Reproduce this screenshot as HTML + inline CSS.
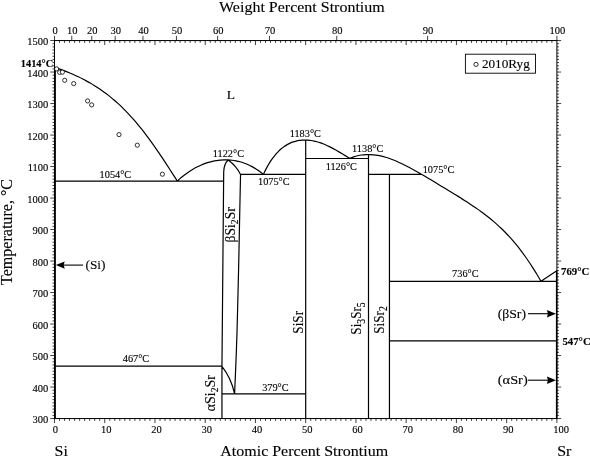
<!DOCTYPE html><html><head><meta charset="utf-8"><title>Si-Sr phase diagram</title>
<style>html,body{margin:0;padding:0;background:#fff}svg{display:block}text{font-family:"Liberation Serif","DejaVu Serif",serif;fill:#000;stroke:#000;stroke-width:0.12px}</style></head><body>
<svg width="590" height="458" viewBox="0 0 590 458">
<rect width="590" height="458" fill="#fff"/>
<rect x="54.5" y="40.55" width="502.40" height="378.00" fill="none" stroke="#000" stroke-width="1"/>
<path d="M54.5 418.55h-4.2M556.9 418.55h4.2M54.5 415.40h-2.0M556.9 415.40h2.0M54.5 412.25h-2.0M556.9 412.25h2.0M54.5 409.10h-2.0M556.9 409.10h2.0M54.5 405.95h-2.0M556.9 405.95h2.0M54.5 402.80h-2.0M556.9 402.80h2.0M54.5 399.65h-2.0M556.9 399.65h2.0M54.5 396.50h-2.0M556.9 396.50h2.0M54.5 393.35h-2.0M556.9 393.35h2.0M54.5 390.20h-2.0M556.9 390.20h2.0M54.5 387.05h-4.2M556.9 387.05h4.2M54.5 383.90h-2.0M556.9 383.90h2.0M54.5 380.75h-2.0M556.9 380.75h2.0M54.5 377.60h-2.0M556.9 377.60h2.0M54.5 374.45h-2.0M556.9 374.45h2.0M54.5 371.30h-2.0M556.9 371.30h2.0M54.5 368.15h-2.0M556.9 368.15h2.0M54.5 365.00h-2.0M556.9 365.00h2.0M54.5 361.85h-2.0M556.9 361.85h2.0M54.5 358.70h-2.0M556.9 358.70h2.0M54.5 355.55h-4.2M556.9 355.55h4.2M54.5 352.40h-2.0M556.9 352.40h2.0M54.5 349.25h-2.0M556.9 349.25h2.0M54.5 346.10h-2.0M556.9 346.10h2.0M54.5 342.95h-2.0M556.9 342.95h2.0M54.5 339.80h-2.0M556.9 339.80h2.0M54.5 336.65h-2.0M556.9 336.65h2.0M54.5 333.50h-2.0M556.9 333.50h2.0M54.5 330.35h-2.0M556.9 330.35h2.0M54.5 327.20h-2.0M556.9 327.20h2.0M54.5 324.05h-4.2M556.9 324.05h4.2M54.5 320.90h-2.0M556.9 320.90h2.0M54.5 317.75h-2.0M556.9 317.75h2.0M54.5 314.60h-2.0M556.9 314.60h2.0M54.5 311.45h-2.0M556.9 311.45h2.0M54.5 308.30h-2.0M556.9 308.30h2.0M54.5 305.15h-2.0M556.9 305.15h2.0M54.5 302.00h-2.0M556.9 302.00h2.0M54.5 298.85h-2.0M556.9 298.85h2.0M54.5 295.70h-2.0M556.9 295.70h2.0M54.5 292.55h-4.2M556.9 292.55h4.2M54.5 289.40h-2.0M556.9 289.40h2.0M54.5 286.25h-2.0M556.9 286.25h2.0M54.5 283.10h-2.0M556.9 283.10h2.0M54.5 279.95h-2.0M556.9 279.95h2.0M54.5 276.80h-2.0M556.9 276.80h2.0M54.5 273.65h-2.0M556.9 273.65h2.0M54.5 270.50h-2.0M556.9 270.50h2.0M54.5 267.35h-2.0M556.9 267.35h2.0M54.5 264.20h-2.0M556.9 264.20h2.0M54.5 261.05h-4.2M556.9 261.05h4.2M54.5 257.90h-2.0M556.9 257.90h2.0M54.5 254.75h-2.0M556.9 254.75h2.0M54.5 251.60h-2.0M556.9 251.60h2.0M54.5 248.45h-2.0M556.9 248.45h2.0M54.5 245.30h-2.0M556.9 245.30h2.0M54.5 242.15h-2.0M556.9 242.15h2.0M54.5 239.00h-2.0M556.9 239.00h2.0M54.5 235.85h-2.0M556.9 235.85h2.0M54.5 232.70h-2.0M556.9 232.70h2.0M54.5 229.55h-4.2M556.9 229.55h4.2M54.5 226.40h-2.0M556.9 226.40h2.0M54.5 223.25h-2.0M556.9 223.25h2.0M54.5 220.10h-2.0M556.9 220.10h2.0M54.5 216.95h-2.0M556.9 216.95h2.0M54.5 213.80h-2.0M556.9 213.80h2.0M54.5 210.65h-2.0M556.9 210.65h2.0M54.5 207.50h-2.0M556.9 207.50h2.0M54.5 204.35h-2.0M556.9 204.35h2.0M54.5 201.20h-2.0M556.9 201.20h2.0M54.5 198.05h-4.2M556.9 198.05h4.2M54.5 194.90h-2.0M556.9 194.90h2.0M54.5 191.75h-2.0M556.9 191.75h2.0M54.5 188.60h-2.0M556.9 188.60h2.0M54.5 185.45h-2.0M556.9 185.45h2.0M54.5 182.30h-2.0M556.9 182.30h2.0M54.5 179.15h-2.0M556.9 179.15h2.0M54.5 176.00h-2.0M556.9 176.00h2.0M54.5 172.85h-2.0M556.9 172.85h2.0M54.5 169.70h-2.0M556.9 169.70h2.0M54.5 166.55h-4.2M556.9 166.55h4.2M54.5 163.40h-2.0M556.9 163.40h2.0M54.5 160.25h-2.0M556.9 160.25h2.0M54.5 157.10h-2.0M556.9 157.10h2.0M54.5 153.95h-2.0M556.9 153.95h2.0M54.5 150.80h-2.0M556.9 150.80h2.0M54.5 147.65h-2.0M556.9 147.65h2.0M54.5 144.50h-2.0M556.9 144.50h2.0M54.5 141.35h-2.0M556.9 141.35h2.0M54.5 138.20h-2.0M556.9 138.20h2.0M54.5 135.05h-4.2M556.9 135.05h4.2M54.5 131.90h-2.0M556.9 131.90h2.0M54.5 128.75h-2.0M556.9 128.75h2.0M54.5 125.60h-2.0M556.9 125.60h2.0M54.5 122.45h-2.0M556.9 122.45h2.0M54.5 119.30h-2.0M556.9 119.30h2.0M54.5 116.15h-2.0M556.9 116.15h2.0M54.5 113.00h-2.0M556.9 113.00h2.0M54.5 109.85h-2.0M556.9 109.85h2.0M54.5 106.70h-2.0M556.9 106.70h2.0M54.5 103.55h-4.2M556.9 103.55h4.2M54.5 100.40h-2.0M556.9 100.40h2.0M54.5 97.25h-2.0M556.9 97.25h2.0M54.5 94.10h-2.0M556.9 94.10h2.0M54.5 90.95h-2.0M556.9 90.95h2.0M54.5 87.80h-2.0M556.9 87.80h2.0M54.5 84.65h-2.0M556.9 84.65h2.0M54.5 81.50h-2.0M556.9 81.50h2.0M54.5 78.35h-2.0M556.9 78.35h2.0M54.5 75.20h-2.0M556.9 75.20h2.0M54.5 72.05h-4.2M556.9 72.05h4.2M54.5 68.90h-2.0M556.9 68.90h2.0M54.5 65.75h-2.0M556.9 65.75h2.0M54.5 62.60h-2.0M556.9 62.60h2.0M54.5 59.45h-2.0M556.9 59.45h2.0M54.5 56.30h-2.0M556.9 56.30h2.0M54.5 53.15h-2.0M556.9 53.15h2.0M54.5 50.00h-2.0M556.9 50.00h2.0M54.5 46.85h-2.0M556.9 46.85h2.0M54.5 43.70h-2.0M556.9 43.70h2.0M54.5 40.55h-4.2M556.9 40.55h4.2M54.50 418.55v4.5M59.52 418.55v2.3M59.52 40.55v2.3M64.55 418.55v2.3M64.55 40.55v2.3M69.57 418.55v2.3M69.57 40.55v2.3M74.60 418.55v2.3M74.60 40.55v2.3M79.62 418.55v2.3M79.62 40.55v2.3M84.64 418.55v2.3M84.64 40.55v2.3M89.67 418.55v2.3M89.67 40.55v2.3M94.69 418.55v2.3M94.69 40.55v2.3M99.72 418.55v2.3M99.72 40.55v2.3M104.74 418.55v4.5M104.74 40.55v4.5M109.76 418.55v2.3M109.76 40.55v2.3M114.79 418.55v2.3M114.79 40.55v2.3M119.81 418.55v2.3M119.81 40.55v2.3M124.84 418.55v2.3M124.84 40.55v2.3M129.86 418.55v2.3M129.86 40.55v2.3M134.88 418.55v2.3M134.88 40.55v2.3M139.91 418.55v2.3M139.91 40.55v2.3M144.93 418.55v2.3M144.93 40.55v2.3M149.96 418.55v2.3M149.96 40.55v2.3M154.98 418.55v4.5M154.98 40.55v4.5M160.00 418.55v2.3M160.00 40.55v2.3M165.03 418.55v2.3M165.03 40.55v2.3M170.05 418.55v2.3M170.05 40.55v2.3M175.08 418.55v2.3M175.08 40.55v2.3M180.10 418.55v2.3M180.10 40.55v2.3M185.12 418.55v2.3M185.12 40.55v2.3M190.15 418.55v2.3M190.15 40.55v2.3M195.17 418.55v2.3M195.17 40.55v2.3M200.20 418.55v2.3M200.20 40.55v2.3M205.22 418.55v4.5M205.22 40.55v4.5M210.24 418.55v2.3M210.24 40.55v2.3M215.27 418.55v2.3M215.27 40.55v2.3M220.29 418.55v2.3M220.29 40.55v2.3M225.32 418.55v2.3M225.32 40.55v2.3M230.34 418.55v2.3M230.34 40.55v2.3M235.36 418.55v2.3M235.36 40.55v2.3M240.39 418.55v2.3M240.39 40.55v2.3M245.41 418.55v2.3M245.41 40.55v2.3M250.44 418.55v2.3M250.44 40.55v2.3M255.46 418.55v4.5M255.46 40.55v4.5M260.48 418.55v2.3M260.48 40.55v2.3M265.51 418.55v2.3M265.51 40.55v2.3M270.53 418.55v2.3M270.53 40.55v2.3M275.56 418.55v2.3M275.56 40.55v2.3M280.58 418.55v2.3M280.58 40.55v2.3M285.60 418.55v2.3M285.60 40.55v2.3M290.63 418.55v2.3M290.63 40.55v2.3M295.65 418.55v2.3M295.65 40.55v2.3M300.68 418.55v2.3M300.68 40.55v2.3M305.70 418.55v4.5M305.70 40.55v4.5M310.72 418.55v2.3M310.72 40.55v2.3M315.75 418.55v2.3M315.75 40.55v2.3M320.77 418.55v2.3M320.77 40.55v2.3M325.80 418.55v2.3M325.80 40.55v2.3M330.82 418.55v2.3M330.82 40.55v2.3M335.84 418.55v2.3M335.84 40.55v2.3M340.87 418.55v2.3M340.87 40.55v2.3M345.89 418.55v2.3M345.89 40.55v2.3M350.92 418.55v2.3M350.92 40.55v2.3M355.94 418.55v4.5M355.94 40.55v4.5M360.96 418.55v2.3M360.96 40.55v2.3M365.99 418.55v2.3M365.99 40.55v2.3M371.01 418.55v2.3M371.01 40.55v2.3M376.04 418.55v2.3M376.04 40.55v2.3M381.06 418.55v2.3M381.06 40.55v2.3M386.08 418.55v2.3M386.08 40.55v2.3M391.11 418.55v2.3M391.11 40.55v2.3M396.13 418.55v2.3M396.13 40.55v2.3M401.16 418.55v2.3M401.16 40.55v2.3M406.18 418.55v4.5M406.18 40.55v4.5M411.20 418.55v2.3M411.20 40.55v2.3M416.23 418.55v2.3M416.23 40.55v2.3M421.25 418.55v2.3M421.25 40.55v2.3M426.28 418.55v2.3M426.28 40.55v2.3M431.30 418.55v2.3M431.30 40.55v2.3M436.32 418.55v2.3M436.32 40.55v2.3M441.35 418.55v2.3M441.35 40.55v2.3M446.37 418.55v2.3M446.37 40.55v2.3M451.40 418.55v2.3M451.40 40.55v2.3M456.42 418.55v4.5M456.42 40.55v4.5M461.44 418.55v2.3M461.44 40.55v2.3M466.47 418.55v2.3M466.47 40.55v2.3M471.49 418.55v2.3M471.49 40.55v2.3M476.52 418.55v2.3M476.52 40.55v2.3M481.54 418.55v2.3M481.54 40.55v2.3M486.56 418.55v2.3M486.56 40.55v2.3M491.59 418.55v2.3M491.59 40.55v2.3M496.61 418.55v2.3M496.61 40.55v2.3M501.64 418.55v2.3M501.64 40.55v2.3M506.66 418.55v4.5M506.66 40.55v4.5M511.68 418.55v2.3M511.68 40.55v2.3M516.71 418.55v2.3M516.71 40.55v2.3M521.73 418.55v2.3M521.73 40.55v2.3M526.76 418.55v2.3M526.76 40.55v2.3M531.78 418.55v2.3M531.78 40.55v2.3M536.80 418.55v2.3M536.80 40.55v2.3M541.83 418.55v2.3M541.83 40.55v2.3M546.85 418.55v2.3M546.85 40.55v2.3M551.88 418.55v2.3M551.88 40.55v2.3M556.90 418.55v4.5M54.50 40.55v-4.7M71.78 40.55v-4.7M91.77 40.55v-4.7M115.18 40.55v-4.7M142.96 40.55v-4.7M176.45 40.55v-4.7M217.63 40.55v-4.7M269.47 40.55v-4.7M336.76 40.55v-4.7M427.58 40.55v-4.7M556.90 40.55v-4.7" stroke="#000" stroke-width="0.75" fill="none"/>
<path d="M54.95 67.64V419.05" stroke="#000" stroke-width="1.9" fill="none"/>
<path d="M556.65 270.81V419.05" stroke="#000" stroke-width="1.5" fill="none"/>
<text x="48.3" y="423.05" font-size="10.5" text-anchor="end">300</text>
<text x="48.3" y="391.55" font-size="10.5" text-anchor="end">400</text>
<text x="48.3" y="360.05" font-size="10.5" text-anchor="end">500</text>
<text x="48.3" y="328.55" font-size="10.5" text-anchor="end">600</text>
<text x="48.3" y="297.05" font-size="10.5" text-anchor="end">700</text>
<text x="48.3" y="265.55" font-size="10.5" text-anchor="end">800</text>
<text x="48.3" y="234.05" font-size="10.5" text-anchor="end">900</text>
<text x="48.3" y="202.55" font-size="10.5" text-anchor="end">1000</text>
<text x="48.3" y="171.05" font-size="10.5" text-anchor="end">1100</text>
<text x="48.3" y="139.55" font-size="10.5" text-anchor="end">1200</text>
<text x="48.3" y="108.05" font-size="10.5" text-anchor="end">1300</text>
<text x="48.3" y="76.55" font-size="10.5" text-anchor="end">1400</text>
<text x="48.3" y="45.05" font-size="10.5" text-anchor="end">1500</text>
<text x="55.30" y="432.8" font-size="10.5" text-anchor="middle">0</text>
<text x="101.04" y="432.8" font-size="10.5">10</text>
<text x="151.28" y="432.8" font-size="10.5">20</text>
<text x="201.52" y="432.8" font-size="10.5">30</text>
<text x="251.76" y="432.8" font-size="10.5">40</text>
<text x="302.00" y="432.8" font-size="10.5">50</text>
<text x="352.24" y="432.8" font-size="10.5">60</text>
<text x="402.48" y="432.8" font-size="10.5">70</text>
<text x="452.72" y="432.8" font-size="10.5">80</text>
<text x="502.96" y="432.8" font-size="10.5">90</text>
<text x="553.20" y="432.8" font-size="10.5">100</text>
<text x="55.00" y="33.6" font-size="10.5" text-anchor="middle">0</text>
<text x="72.28" y="33.6" font-size="10.5" text-anchor="middle">10</text>
<text x="92.27" y="33.6" font-size="10.5" text-anchor="middle">20</text>
<text x="115.68" y="33.6" font-size="10.5" text-anchor="middle">30</text>
<text x="143.46" y="33.6" font-size="10.5" text-anchor="middle">40</text>
<text x="176.95" y="33.6" font-size="10.5" text-anchor="middle">50</text>
<text x="218.13" y="33.6" font-size="10.5" text-anchor="middle">60</text>
<text x="269.97" y="33.6" font-size="10.5" text-anchor="middle">70</text>
<text x="337.26" y="33.6" font-size="10.5" text-anchor="middle">80</text>
<text x="428.08" y="33.6" font-size="10.5" text-anchor="middle">90</text>
<text x="557.40" y="33.6" font-size="10.5" text-anchor="middle">100</text>
<text transform="translate(301.9 11.7) scale(1.0667 1)" font-size="15" text-anchor="middle">Weight Percent Strontium</text>
<text transform="translate(304.2 456.3) scale(1.0667 1)" font-size="15" text-anchor="middle">Atomic Percent Strontium</text>
<text transform="translate(54.5 456.3) scale(1.0667 1)" font-size="15">Si</text>
<text transform="translate(557.2 456.2) scale(1.0667 1)" font-size="15">Sr</text>
<text transform="translate(12.0 232.0) scale(1.1 1) rotate(-90) scale(1.072 1)" font-size="15" text-anchor="middle">Temperature, °C</text>
<path d="M54.5 181.04H223.7M240.5 174.4H305.6M305.70 158.51L368.50 158.51M368.50 174.43H421.1M389.45 281.36L556.90 281.36M389.45 340.89L556.90 340.89M54.50 366.09L221.95 366.09M221.95 393.81L305.70 393.81M221.95 366.09L221.95 418.70M305.70 140.56L305.70 418.70M368.50 154.73L368.50 418.70M389.45 174.58L389.45 418.70M541 281.3L556.8 270.81M54.60 67.20C55.26 67.43 57.24 68.12 58.56 68.60C59.88 69.08 61.20 69.57 62.52 70.07C63.84 70.58 65.15 71.09 66.47 71.62C67.79 72.16 69.11 72.70 70.43 73.26C71.75 73.83 73.07 74.40 74.39 75.00C75.71 75.59 77.03 76.20 78.35 76.83C79.67 77.47 80.99 78.11 82.31 78.79C83.63 79.46 84.95 80.15 86.26 80.86C87.58 81.58 88.90 82.31 90.22 83.08C91.54 83.84 92.86 84.63 94.18 85.44C95.50 86.26 96.82 87.10 98.14 87.97C99.46 88.84 100.78 89.74 102.10 90.67C103.42 91.60 104.74 92.56 106.05 93.55C107.37 94.55 108.69 95.57 110.01 96.64C111.33 97.70 112.65 98.79 113.97 99.92C115.29 101.06 116.61 102.22 117.93 103.43C119.25 104.63 120.57 105.87 121.89 107.15C123.21 108.43 124.53 109.75 125.85 111.10C127.16 112.46 128.48 113.86 129.80 115.29C131.12 116.72 132.44 118.19 133.76 119.70C135.08 121.21 136.40 122.76 137.72 124.35C139.04 125.94 140.36 127.56 141.68 129.23C143.00 130.89 144.32 132.59 145.64 134.32C146.95 136.06 148.27 137.83 149.59 139.63C150.91 141.43 152.23 143.27 153.55 145.13C154.87 147.00 156.19 148.90 157.51 150.82C158.83 152.74 160.15 154.69 161.47 156.66C162.79 158.63 164.11 160.63 165.43 162.64C166.75 164.65 168.06 166.68 169.38 168.72C170.70 170.76 172.02 172.82 173.34 174.88C174.66 176.93 176.64 180.02 177.30 181.05M177.30 181.05C177.95 180.47 179.91 178.67 181.21 177.57C182.52 176.46 183.82 175.42 185.13 174.44C186.43 173.45 187.74 172.53 189.04 171.65C190.35 170.78 191.65 169.96 192.95 169.19C194.26 168.42 195.56 167.71 196.87 167.04C198.17 166.38 199.48 165.76 200.78 165.19C202.09 164.62 203.39 164.10 204.70 163.62C206.00 163.15 207.30 162.72 208.61 162.34C209.91 161.95 211.22 161.61 212.52 161.32C213.83 161.02 215.13 160.77 216.44 160.57C217.74 160.36 219.05 160.20 220.35 160.08C221.65 159.97 222.96 159.89 224.26 159.86C225.57 159.83 226.87 159.85 228.18 159.91C229.48 159.97 230.79 160.08 232.09 160.23C233.40 160.39 234.70 160.59 236.00 160.84C237.31 161.09 238.61 161.39 239.92 161.74C241.22 162.09 242.53 162.49 243.83 162.95C245.14 163.41 246.44 163.92 247.75 164.49C249.05 165.06 250.35 165.68 251.66 166.37C252.96 167.07 254.27 167.81 255.57 168.64C256.88 169.46 258.18 170.34 259.49 171.30C260.79 172.26 262.75 173.88 263.40 174.40M263.40 174.40C263.90 173.40 265.38 170.26 266.38 168.39C267.37 166.52 268.36 164.80 269.35 163.18C270.34 161.56 271.34 160.08 272.33 158.69C273.32 157.30 274.31 156.03 275.30 154.84C276.30 153.66 277.29 152.58 278.28 151.57C279.27 150.57 280.26 149.65 281.26 148.81C282.25 147.97 283.24 147.21 284.23 146.51C285.22 145.81 286.21 145.19 287.21 144.62C288.20 144.05 289.19 143.55 290.18 143.10C291.17 142.66 292.17 142.27 293.16 141.92C294.15 141.58 295.14 141.30 296.13 141.05C297.13 140.81 298.12 140.61 299.11 140.46C300.10 140.31 301.09 140.20 302.09 140.13C303.08 140.06 304.07 140.03 305.06 140.04C306.05 140.04 307.05 140.09 308.04 140.17C309.03 140.25 310.02 140.37 311.01 140.51C312.01 140.66 313.00 140.84 313.99 141.06C314.98 141.27 315.97 141.51 316.97 141.78C317.96 142.06 318.95 142.36 319.94 142.69C320.93 143.02 321.93 143.38 322.92 143.76C323.91 144.15 324.90 144.56 325.89 144.99C326.89 145.42 327.88 145.88 328.87 146.36C329.86 146.83 330.85 147.33 331.84 147.85C332.84 148.37 333.83 148.91 334.82 149.46C335.81 150.01 336.80 150.57 337.80 151.15C338.79 151.73 339.78 152.32 340.77 152.91C341.76 153.51 342.76 154.11 343.75 154.71C344.74 155.31 345.73 155.92 346.72 156.52C347.72 157.12 349.20 158.00 349.70 158.30M349.70 158.30C350.36 158.06 352.36 157.26 353.69 156.83C355.01 156.40 356.34 156.04 357.67 155.73C359.00 155.42 360.33 155.18 361.66 154.99C362.98 154.80 364.31 154.67 365.64 154.59C366.97 154.51 368.30 154.50 369.63 154.53C370.96 154.56 372.28 154.65 373.61 154.78C374.94 154.91 376.27 155.10 377.60 155.33C378.93 155.55 380.25 155.83 381.58 156.15C382.91 156.46 384.24 156.82 385.57 157.22C386.90 157.61 388.23 158.05 389.55 158.52C390.88 158.98 392.21 159.49 393.54 160.02C394.87 160.55 396.20 161.11 397.52 161.69C398.85 162.28 400.18 162.89 401.51 163.53C402.84 164.16 404.17 164.82 405.50 165.49C406.82 166.16 408.15 166.86 409.48 167.57C410.81 168.27 412.14 169.00 413.47 169.73C414.80 170.47 416.12 171.21 417.45 171.97C418.78 172.72 420.11 173.49 421.44 174.26C422.77 175.03 424.09 175.81 425.42 176.60C426.75 177.38 428.08 178.17 429.41 178.96C430.74 179.75 432.07 180.55 433.39 181.35C434.72 182.14 436.05 182.94 437.38 183.74C438.71 184.54 440.04 185.35 441.36 186.15C442.69 186.95 444.02 187.76 445.35 188.57C446.68 189.37 448.01 190.18 449.34 190.99C450.66 191.80 451.99 192.61 453.32 193.43C454.65 194.24 455.98 195.06 457.31 195.88C458.63 196.71 459.96 197.54 461.29 198.37C462.62 199.21 463.95 200.05 465.28 200.90C466.61 201.75 467.93 202.61 469.26 203.48C470.59 204.35 471.92 205.23 473.25 206.13C474.58 207.03 475.90 207.94 477.23 208.87C478.56 209.80 479.89 210.74 481.22 211.71C482.55 212.68 483.88 213.67 485.20 214.69C486.53 215.70 487.86 216.74 489.19 217.81C490.52 218.88 491.85 219.97 493.18 221.10C494.50 222.23 495.83 223.39 497.16 224.59C498.49 225.79 499.82 227.02 501.15 228.30C502.47 229.58 503.80 230.89 505.13 232.25C506.46 233.61 507.79 235.01 509.12 236.45C510.45 237.90 511.77 239.40 513.10 240.94C514.43 242.49 515.76 244.08 517.09 245.73C518.42 247.38 519.74 249.07 521.07 250.83C522.40 252.58 523.73 254.39 525.06 256.25C526.39 258.12 527.72 260.03 529.04 262.01C530.37 263.99 531.70 266.02 533.03 268.10C534.36 270.19 535.69 272.34 537.01 274.53C538.34 276.73 540.34 280.17 541.00 281.30M221.95 366.8 L223.7 172 C223.8 168 225 163 228.1 160.0M228.1 160.0 Q236 165.5 240.5 174.4M240.55 174.40C240.41 181.17 239.97 201.57 239.70 215.00C239.42 228.43 239.15 243.33 238.90 255.00C238.65 266.67 238.52 272.08 238.20 285.00C237.88 297.92 237.38 319.50 237.00 332.50C236.62 345.50 236.30 352.83 235.90 363.00C235.50 373.17 234.82 388.42 234.60 393.50M221.95 366.3 Q231.2 378 234.5 393.5" stroke="#000" stroke-width="1.2" fill="none" stroke-linejoin="round"/>
<circle cx="56.6" cy="68.9" r="2.1" fill="#fff" stroke="#000" stroke-width="0.8"/>
<circle cx="59.7" cy="72.4" r="2.1" fill="#fff" stroke="#000" stroke-width="0.8"/>
<circle cx="62.4" cy="72.2" r="2.1" fill="#fff" stroke="#000" stroke-width="0.8"/>
<circle cx="64.7" cy="80.3" r="2.1" fill="#fff" stroke="#000" stroke-width="0.8"/>
<circle cx="73.7" cy="83.6" r="2.1" fill="#fff" stroke="#000" stroke-width="0.8"/>
<circle cx="87.6" cy="100.9" r="2.1" fill="#fff" stroke="#000" stroke-width="0.8"/>
<circle cx="91.7" cy="104.9" r="2.1" fill="#fff" stroke="#000" stroke-width="0.8"/>
<circle cx="119" cy="134.6" r="2.1" fill="#fff" stroke="#000" stroke-width="0.8"/>
<circle cx="137.3" cy="145.2" r="2.1" fill="#fff" stroke="#000" stroke-width="0.8"/>
<circle cx="162.4" cy="174.2" r="2.1" fill="#fff" stroke="#000" stroke-width="0.8"/>
<text x="115.4" y="177.6" font-size="10.3" text-anchor="middle">1054°C</text>
<text x="228.4" y="157.3" font-size="10.3" text-anchor="middle">1122°C</text>
<text x="273.8" y="185.2" font-size="10.3" text-anchor="middle">1075°C</text>
<text x="305.3" y="136.9" font-size="10.3" text-anchor="middle">1183°C</text>
<text x="341.3" y="169.8" font-size="10.3" text-anchor="middle">1126°C</text>
<text x="367.7" y="152.1" font-size="10.3" text-anchor="middle">1138°C</text>
<text x="438.5" y="172.5" font-size="10.3" text-anchor="middle">1075°C</text>
<text x="465.3" y="276.9" font-size="10.3" text-anchor="middle">736°C</text>
<text x="136" y="361.9" font-size="10.3" text-anchor="middle">467°C</text>
<text x="275.4" y="391" font-size="10.3" text-anchor="middle">379°C</text>
<text x="230.9" y="98.8" font-size="13.5" text-anchor="middle">L</text>
<text x="53.2" y="66.5" font-size="10.4" text-anchor="end" font-weight="bold">1414°C</text>
<text x="561.0" y="275.3" font-size="10.8" text-anchor="start" font-weight="bold">769°C</text>
<text x="562.4" y="344.8" font-size="10.8" text-anchor="start" font-weight="bold">547°C</text>
<rect x="465.4" y="54.2" width="70.1" height="19" fill="#fff" stroke="#000" stroke-width="0.9"/>
<circle cx="476.05" cy="64.4" r="2.1" fill="#fff" stroke="#000" stroke-width="0.8"/>
<text x="481.9" y="67.9" font-size="13.2" text-anchor="start">2010Ryg</text>
<path d="M62 265.1H83.1" stroke="#000" stroke-width="1.1" fill="none"/><path d="M55.8 265.1L64.7 261.4L63.7 265.1L64.7 268.8z" fill="#000"/>
<text x="85.5" y="268.8" font-size="13.3" text-anchor="start">(Si)</text>
<path d="M528 313.7H549" stroke="#000" stroke-width="1.1" fill="none"/><path d="M556 313.7L546.9 310.0L547.9 313.7L546.9 317.4z" fill="#000"/>
<text transform="translate(526.0 317.7) scale(1.04 1)" font-size="13.2" text-anchor="end">(βSr)</text>
<path d="M528 380.2H549" stroke="#000" stroke-width="1.1" fill="none"/><path d="M556 380.2L546.9 376.5L547.9 380.2L546.9 383.9z" fill="#000"/>
<text transform="translate(527.7 383.6) scale(1.09 1)" font-size="13.2" text-anchor="end">(αSr)</text>
<text transform="translate(235.4 224.8) scale(1.08 1) rotate(-90)" font-size="13.6" text-anchor="middle" stroke-width="0.3">βSi<tspan dy="2.8" font-size="9.7">2</tspan><tspan dy="-2.8">Sr</tspan></text>
<text transform="translate(214.9 393.2) scale(1.08 1) rotate(-90)" font-size="13.9" text-anchor="middle" stroke-width="0.3">αSi<tspan dy="2.8" font-size="9.7">2</tspan><tspan dy="-2.8">Sr</tspan></text>
<text transform="translate(302.9 322.3) scale(1.18 1) rotate(-90)" font-size="13.2" text-anchor="middle" stroke-width="0.3">SiSr</text>
<text transform="translate(361.3 318.5) scale(1.18 1) rotate(-90)" font-size="13.2" text-anchor="middle" stroke-width="0.3">Si<tspan dy="2.8" font-size="9.7">3</tspan><tspan dy="-2.8">Sr</tspan><tspan dy="2.8" font-size="9.7">5</tspan></text>
<text transform="translate(383.5 320) scale(1.18 1) rotate(-90)" font-size="13.2" text-anchor="middle" stroke-width="0.3">SiSr<tspan dy="2.8" font-size="9.7">2</tspan></text>
</svg></body></html>
